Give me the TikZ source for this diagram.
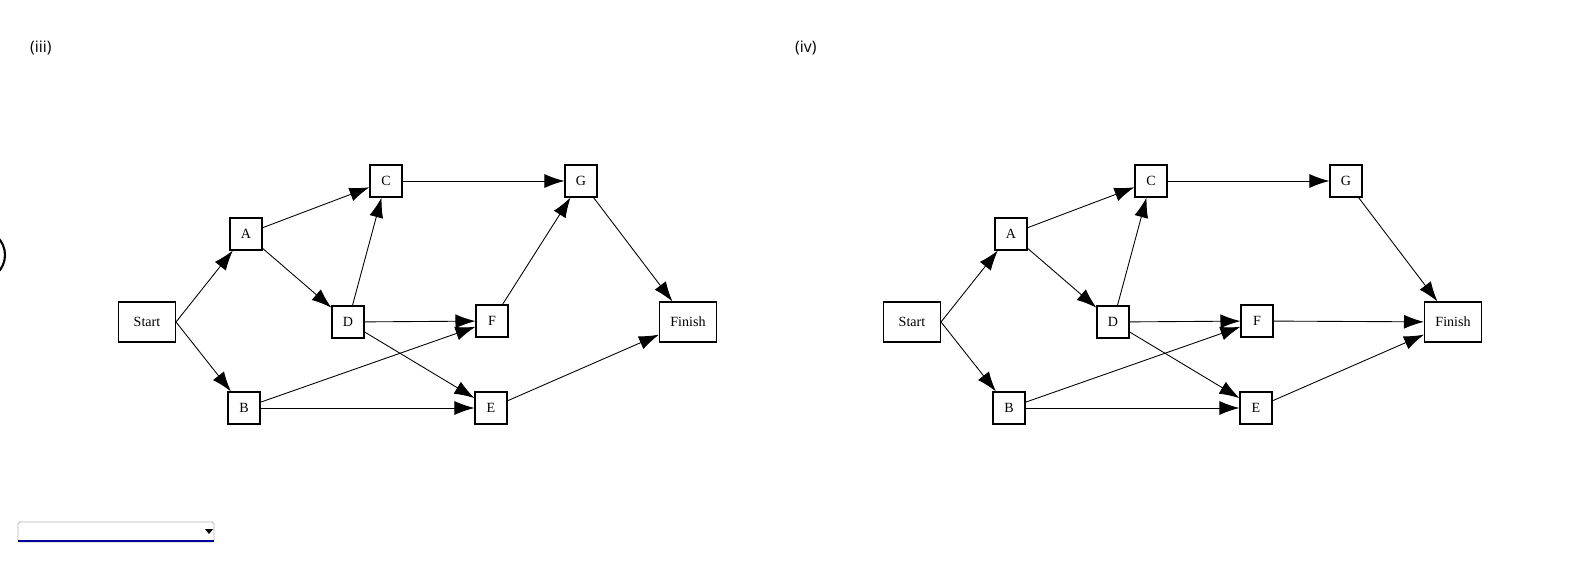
\documentclass[tikz,border=0pt]{standalone}
\usepackage{fontspec}
\setmainfont{Liberation Serif}
\newfontfamily\lblfont{Open Sans}
\usetikzlibrary{arrows.meta}
\begin{document}
\begin{tikzpicture}[x=0.02cm,y=-0.02cm,
  box/.style={draw,semithick,fill=white,minimum width=0.64cm,minimum height=0.64cm,inner sep=0pt,font=\fontsize{8}{9}\selectfont},
  wbox/.style={box,minimum width=1.14cm,minimum height=0.8cm},
  arr/.style={-{Latex[length=0.4cm,width=0.28cm]},line width=0.5pt}]
\useasboundingbox (0,0) rectangle (1587,568);
\node[font=\lblfont\fontsize{9}{10}\selectfont,anchor=west] (l3) at (24,48) {(iii)};
\node[font=\lblfont\fontsize{9}{10}\selectfont,anchor=west] (l4) at (789,48) {(iv)};
\begin{scope}
\clip (0,0) rectangle (1587,568);
\draw[line width=1.2pt] (-20,255) circle (0.5cm);
\end{scope}
\draw[gray!60,rounded corners=1pt] (18,522) rectangle (214,542);
\draw[blue!60!black,line width=1.5pt] (18,541) -- (214,541);
\fill (205,529) -- (213,529) -- (209,534) -- cycle;
\foreach \ox/\nm in {0/a,765/b}{
\begin{scope}[xshift=\ox*0.02cm]
\node[wbox] (S\nm) at (147,322) {Start};
\node[box] (A\nm) at (246,234) {A};
\node[box] (B\nm) at (244,408) {B};
\node[box] (C\nm) at (386,181) {C};
\node[box] (D\nm) at (348,322) {D};
\node[box] (F\nm) at (492,321) {F};
\node[box] (E\nm) at (491,408) {E};
\node[box] (G\nm) at (581,181) {G};
\node[wbox] (X\nm) at (688,322) {Finish};
\draw[arr] (S\nm.east) -- (A\nm);
\draw[arr] (S\nm.east) -- (B\nm);
\draw[arr] (A\nm) -- (C\nm);
\draw[arr] (A\nm) -- (D\nm);
\draw[arr] (D\nm) -- (C\nm);
\draw[arr] (D\nm) -- (F\nm);
\draw[arr] (D\nm) -- (E\nm);
\draw[arr] (B\nm) -- (F\nm);
\draw[arr] (B\nm) -- (E\nm);
\draw[arr] (C\nm) -- (G\nm);
\draw[arr] (G\nm) -- (X\nm);
\draw[arr] (E\nm) -- (X\nm);
\end{scope}}
\draw[arr] (Fa) -- (Ga);
\draw[arr] (Fb) -- (Xb);
\end{tikzpicture}
\end{document}
